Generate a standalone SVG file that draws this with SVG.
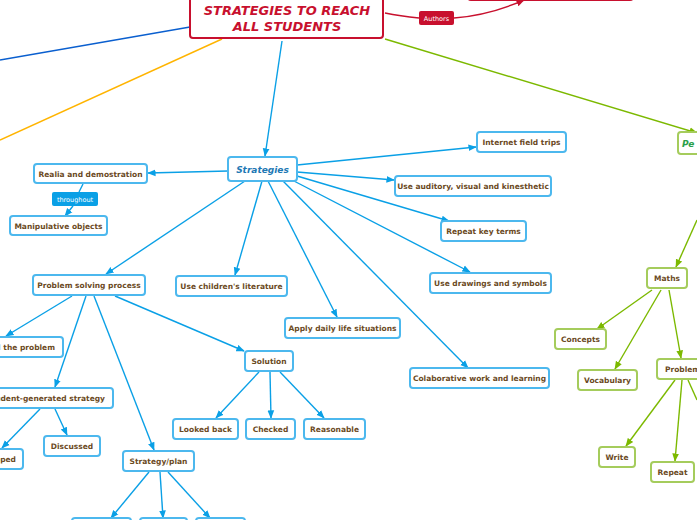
<svg xmlns="http://www.w3.org/2000/svg" width="697" height="520" viewBox="0 0 697 520">
<style>
.b rect{fill:#fff;stroke:#4cb8ee;stroke-width:2}
.g rect{fill:#fff;stroke:#a5cc5c;stroke-width:2}
text{font-family:"DejaVu Sans",Verdana,sans-serif;font-size:7.5px;font-weight:bold;fill:#6b4a1e;text-anchor:middle}
.cb{stroke:#0aa0e6;stroke-width:1.4;fill:none;marker-end:url(#ab)}
.cg{stroke:#7cb900;stroke-width:1.4;fill:none;marker-end:url(#ag)}
</style>
<defs>
<marker id="ab" viewBox="0 0 10 10" refX="9" refY="5" markerWidth="6" markerHeight="6" orient="auto"><path d="M0,1L10,5L0,9z" fill="#0aa0e6"/></marker>
<marker id="ag" viewBox="0 0 10 10" refX="9" refY="5" markerWidth="6" markerHeight="6" orient="auto"><path d="M0,1L10,5L0,9z" fill="#7cb900"/></marker>
<marker id="ar" viewBox="0 0 10 10" refX="9" refY="5" markerWidth="6" markerHeight="6" orient="auto"><path d="M0,1L10,5L0,9z" fill="#c8102e"/></marker>
</defs>
<rect width="697" height="520" fill="#fff"/>
<g id="connectors">
<path d="M190,27L0,60" stroke="#0a5fcf" stroke-width="1.4"/>
<path d="M222,39L0,140" stroke="#ffb400" stroke-width="1.4"/>
<path d="M385,39L697,133" class="cg"/>
<path d="M385,13Q400,16 419,18" stroke="#c8102e" stroke-width="1.4" fill="none"/>
<path d="M454,18Q490,15 524,0" stroke="#c8102e" stroke-width="1.4" fill="none" marker-end="url(#ar)"/>
<path d="M282,41L265,156" class="cb"/>
<path d="M228,171L148,173" class="cb"/>
<path d="M83,184L79,192" stroke="#0aa0e6" stroke-width="1.4"/>
<path d="M73,206L65,216" class="cb"/>
<path d="M297,165L476,147" class="cb"/>
<path d="M297,172L394,180" class="cb"/>
<path d="M297,176L449,221" class="cb"/>
<path d="M292,180L470,272" class="cb"/>
<path d="M283,181L468,368" class="cb"/>
<path d="M268,181L337,317" class="cb"/>
<path d="M262,181L235,275" class="cb"/>
<path d="M245,181L106,274" class="cb"/>
<path d="M72,296L6,336" class="cb"/>
<path d="M86,296L55,387" class="cb"/>
<path d="M94,296L154,450" class="cb"/>
<path d="M115,296L244,351" class="cb"/>
<path d="M40,409L2,448" class="cb"/>
<path d="M55,409L67,435" class="cb"/>
<path d="M259,372L216,418" class="cb"/>
<path d="M270,372L271,418" class="cb"/>
<path d="M280,372L324,418" class="cb"/>
<path d="M149,472L111,518" class="cb"/>
<path d="M160,472L163,518" class="cb"/>
<path d="M168,472L210,518" class="cb"/>
<path d="M697,220L676,267" class="cg"/>
<path d="M652,290L597,329" class="cg"/>
<path d="M661,290L615,369" class="cg"/>
<path d="M669,290L681,358" class="cg"/>
<path d="M675,380L626,446" class="cg"/>
<path d="M682,380L675,461" class="cg"/>
<path d="M688,380L697,400" stroke="#7cb900" stroke-width="1.4"/>
</g>
<g id="main"><rect x="190" y="-6" width="193" height="44" rx="3" fill="#fff" stroke="#c8102e" stroke-width="2"/>
<text x="287" y="15" style="font-size:13px;font-style:italic;fill:#c8102e">STRATEGIES TO REACH</text>
<text x="287" y="31" style="font-size:13px;font-style:italic;fill:#c8102e">ALL STUDENTS</text></g>
<g id="authors"><rect x="419" y="11" width="35" height="14" rx="2" fill="#c8102e"/><text x="436.5" y="21" style="font-size:6.5px;font-weight:normal;fill:#fff">Authors</text></g>
<g id="topright"><rect x="468" y="-20" width="165" height="20" rx="3" fill="#fff" stroke="#c8102e" stroke-width="2"/></g>
<g id="pe" class="g"><rect x="678" y="132" width="30" height="22" rx="3"/><text x="682" y="147" style="font-size:9px;font-style:italic;fill:#2aa04a;text-anchor:start">Pe</text></g>
<g id="strategies" class="b"><rect x="228" y="157" width="69" height="24" rx="3"/><text x="262.5" y="173" style="font-size:9px;font-style:italic;fill:#1e78b4">Strategies</text></g>
<g id="realia" class="b"><rect x="34" y="164" width="113" height="19" rx="3"/><text x="90.5" y="177">Realia and demostration</text></g>
<g id="throughout"><rect x="52" y="192" width="46" height="14" rx="2" fill="#0aa0e6"/><text x="75" y="202" style="font-size:6.5px;font-weight:normal;fill:#fff">throughout</text></g>
<g id="manip" class="b"><rect x="10" y="216" width="97" height="19" rx="3"/><text x="58.5" y="229">Manipulative objects</text></g>
<g id="internet" class="b"><rect x="477" y="132" width="89" height="20" rx="3"/><text x="521.5" y="145">Internet field trips</text></g>
<g id="auditory" class="b"><rect x="395" y="176" width="156" height="20" rx="3"/><text x="473" y="189">Use auditory, visual and kinesthetic</text></g>
<g id="repeatkey" class="b"><rect x="441" y="221" width="85" height="20" rx="3"/><text x="483.5" y="234">Repeat key terms</text></g>
<g id="drawings" class="b"><rect x="430" y="273" width="121" height="20" rx="3"/><text x="490.5" y="286">Use drawings and symbols</text></g>
<g id="colab" class="b"><rect x="410" y="368" width="139" height="20" rx="3"/><text x="479.5" y="381">Colaborative work and learning</text></g>
<g id="apply" class="b"><rect x="285" y="318" width="115" height="20" rx="3"/><text x="342.5" y="331">Apply daily life situations</text></g>
<g id="children" class="b"><rect x="176" y="276" width="111" height="20" rx="3"/><text x="231.5" y="289">Use children's literature</text></g>
<g id="problem" class="b"><rect x="33" y="275" width="112" height="20" rx="3"/><text x="89" y="288">Problem solving process</text></g>
<g id="understand" class="b"><rect x="-50" y="337" width="113" height="20" rx="3"/><text x="55" y="350" style="text-anchor:end">Understand the problem</text></g>
<g id="student" class="b"><rect x="-30" y="388" width="143" height="20" rx="3"/><text x="105" y="401" style="text-anchor:end">Student-generated strategy</text></g>
<g id="developed" class="b"><rect x="-40" y="449" width="63" height="20" rx="3"/><text x="16" y="462" style="text-anchor:end">Developed</text></g>
<g id="discussed" class="b"><rect x="44" y="436" width="56" height="20" rx="3"/><text x="72" y="449">Discussed</text></g>
<g id="plan" class="b"><rect x="123" y="451" width="71" height="20" rx="3"/><text x="158.5" y="464">Strategy/plan</text></g>
<g id="solution" class="b"><rect x="245" y="351" width="48" height="20" rx="3"/><text x="269" y="364">Solution</text></g>
<g id="looked" class="b"><rect x="173" y="419" width="65" height="20" rx="3"/><text x="205.5" y="432">Looked back</text></g>
<g id="checked" class="b"><rect x="246" y="419" width="49" height="20" rx="3"/><text x="270.5" y="432">Checked</text></g>
<g id="reasonable" class="b"><rect x="304" y="419" width="61" height="20" rx="3"/><text x="334.5" y="432">Reasonable</text></g>
<g id="p1" class="b"><rect x="72" y="518" width="59" height="20" rx="3"/></g>
<g id="p2" class="b"><rect x="140" y="518" width="47" height="20" rx="3"/></g>
<g id="p3" class="b"><rect x="196" y="518" width="49" height="20" rx="3"/></g>
<g id="maths" class="g"><rect x="647" y="268" width="40" height="20" rx="3"/><text x="667" y="281">Maths</text></g>
<g id="concepts" class="g"><rect x="555" y="329" width="51" height="20" rx="3"/><text x="580.5" y="342">Concepts</text></g>
<g id="vocab" class="g"><rect x="578" y="370" width="59" height="20" rx="3"/><text x="607.5" y="383">Vocabulary</text></g>
<g id="problems" class="g"><rect x="657" y="359" width="60" height="20" rx="3"/><text x="665" y="372" style="text-anchor:start">Problems</text></g>
<g id="write" class="g"><rect x="599" y="447" width="36" height="20" rx="3"/><text x="617" y="460">Write</text></g>
<g id="repeat" class="g"><rect x="651" y="462" width="43" height="20" rx="3"/><text x="672.5" y="475">Repeat</text></g>
</svg>
